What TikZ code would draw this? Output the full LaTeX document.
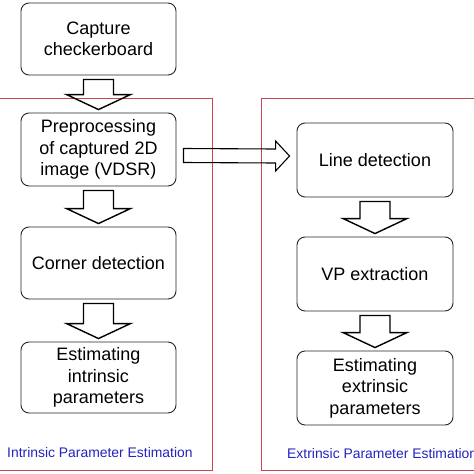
\documentclass[tikz,border=0pt]{standalone}
\usepackage{fontspec}
\setmainfont{Liberation Sans}
\usetikzlibrary{calc}
\definecolor{framered}{RGB}{200,70,80}
\definecolor{labelblue}{RGB}{35,35,190}
\tikzset{
  stepbox/.style={draw=black!85, line width=0.9pt, rounded corners=8pt, align=center,
    font=\fontsize{18}{21.5}\selectfont, inner sep=0pt},
  fatarrow/.style={draw=black, line width=1.4pt, line join=miter},
  frame/.style={draw=framered, line width=1pt},
  grouplabel/.style={text=labelblue, font=\fontsize{13.9}{16}\selectfont, anchor=west, inner sep=0pt}
}
\newcommand{\fatdown}[2]{%
  \draw[fatarrow] ($(#1.south)+(-15,4)$) -- ($(#1.south)+(15,4)$)
    -- ($(#2.north)+(15,-18)$) -- ($(#2.north)+(32,-18)$) -- ($(#2.north)+(0,-3)$)
    -- ($(#2.north)+(-32,-18)$) -- ($(#2.north)+(-15,-18)$) -- cycle;}
\begin{document}
\begin{tikzpicture}[x=1pt,y=-1pt]
\useasboundingbox (0,0) rectangle (474,474);
\clip (0,0) rectangle (474,474);
% frames
\draw[frame] (-5,98) rectangle (212,470);
\draw[frame] (261,98) rectangle (480,470);
% left column
\node[stepbox, minimum width=155pt, minimum height=72pt] (b1) at (98.5,39) {Capture\\checkerboard};
\node[stepbox, minimum width=155pt, minimum height=73pt] (b2) at (98.5,149.5) {Preprocessing\\of captured 2D\\image (VDSR)};
\node[stepbox, minimum width=155pt, minimum height=72pt] (b3) at (98.5,263) {Corner detection};
\node[stepbox, minimum width=155pt, minimum height=71pt] (b4) at (98.5,377.5) {Estimating\\intrinsic\\parameters};
% right column
\node[stepbox, minimum width=156pt, minimum height=74pt] (r1) at (375,160) {Line detection};
\node[stepbox, minimum width=156pt, minimum height=74pt] (r2) at (375,274) {VP extraction};
\node[stepbox, minimum width=156pt, minimum height=74pt] (r3) at (375,388) {Estimating\\extrinsic\\parameters};
% labels
\node[grouplabel] (lint) at (7,453) {Intrinsic Parameter Estimation};
\node[grouplabel] (lext) at (287,454) {Extrinsic Parameter Estimation};
% down arrows
\fatdown{b1}{b2}
\fatdown{b2}{b3}
\fatdown{b3}{b4}
\fatdown{r1}{r2}
\fatdown{r2}{r3}
% horizontal arrow
\coordinate (hs) at ($(b2.east)+(7,6)$);
\coordinate (ht) at ($(r1.west)+(-7,-4)$);
\draw[fatarrow, line width=1.1pt] ($(hs)+(0,-7)$) -- ($(ht)+(-14,-7)$) -- ($(ht)+(-14,-15)$) -- (ht)
  -- ($(ht)+(-14,15)$) -- ($(ht)+(-14,7)$) -- ($(hs)+(0,7)$) -- cycle;
\end{tikzpicture}
\end{document}
